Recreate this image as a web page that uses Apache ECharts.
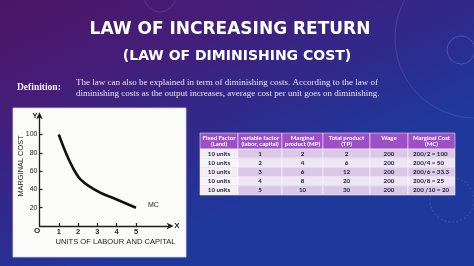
<!DOCTYPE html>
<html><head><meta charset="utf-8">
<script src="https://cdn.jsdelivr.net/npm/echarts@6/dist/echarts.min.js"></script>
<style>html,body{margin:0;padding:0;background:#3a2178;overflow:hidden}#c{width:474px;height:266px}</style>
</head><body><div id="c"></div>
<script>
// ---- data ----
const units = [1, 2, 3, 4, 5];
const marginalCost = [100, 54, 38, 29, 20];
const yTickValues = [20, 40, 60, 80, 100];
const tableHeaders = [['Fixed Factor', '(Land)'], ['variable factor', '(labor, capital)'], ['Marginal', 'product (MP)'], ['Total product', '(TP)'], ['Wage'], ['Marginal Cost', '(MC)']];
const fixedFactor = ['10 units', '10 units', '10 units', '10 units', '10 units'];
const variableFactor = ['1', '2', '3', '4', '5'];
const marginalProduct = ['2', '4', '6', '8', '10'];
const totalProduct = ['2', '6', '12', '20', '30'];
const wage = ['200', '200', '200', '200', '200'];
const mcCalc = ['200/2 = 100', '200/4 = 50', '200/6 = 33.3', '200/8 = 25', '200 /10 = 20'];
const titleText = 'LAW OF INCREASING RETURN';
const subtitleText = '(LAW OF DIMINISHING COST)';
const defLabel = 'Definition:';
const defLines = ['The law can also be explained in term of diminishing costs. According to the law of', 'diminishing costs as the output increases, average cost per unit goes on diminishing.'];

// ---- layout ----
const chart = echarts.init(document.getElementById('c'), null, {renderer: 'canvas'});
const g = [];
g.push({type: 'rect', z: -20, silent: true, shape: {x: 0, y: 0, width: 474, height: 266},
  style: {fill: new echarts.graphic.LinearGradient(0, 0, 0.25, 1, [
    {offset: 0, color: '#4d1666'}, {offset: 0.35, color: '#451d78'}, {offset: 0.7, color: '#2f2a8c'}, {offset: 1, color: '#1f389c'}])}});
// decorative rings
const ring = 'rgba(190,170,240,0.28)';
g.push({type: 'circle', z: -19, silent: true, shape: {cx: 461, cy: 50, r: 14}, style: {fill: 'none', stroke: ring, lineWidth: 1}});
g.push({type: 'circle', z: -19, silent: true, shape: {cx: 475, cy: 38, r: 80}, style: {fill: 'none', stroke: 'rgba(190,170,240,0.18)', lineWidth: 1}});
g.push({type: 'circle', z: -19, silent: true, shape: {cx: 160, cy: -4, r: 16}, style: {fill: 'none', stroke: 'rgba(190,170,240,0.18)', lineWidth: 1}});
g.push({type: 'circle', z: -19, silent: true, shape: {cx: 452, cy: 200, r: 22}, style: {fill: 'none', stroke: 'rgba(190,200,255,0.2)', lineWidth: 1, lineDash: [2, 2]}});

g.push({type: 'text', silent: true, style: {text: titleText, x: 230, y: 30, textAlign: 'center', textVerticalAlign: 'middle', fill: '#ffffff', font: 'bold 17px "DejaVu Sans"'}});
g.push({type: 'text', silent: true, style: {text: subtitleText, x: 237, y: 56, textAlign: 'center', textVerticalAlign: 'middle', fill: '#ffffff', font: 'bold 14px "DejaVu Sans"'}});
g.push({type: 'text', silent: true, style: {text: defLabel, x: 17, y: 88, textAlign: 'left', textVerticalAlign: 'middle', fill: '#f2eef6', font: 'bold 9.5px "Liberation Serif"'}});
defLines.forEach((t, i) => g.push({type: 'text', silent: true, style: {text: t, x: 76, y: 82.5 + i * 11.5, textAlign: 'left', textVerticalAlign: 'middle', fill: '#e6e1ee', font: '9px "Liberation Serif"'}}));

// chart box
g.push({type: 'rect', z: -5, silent: true, shape: {x: 13, y: 108, width: 173, height: 149}, style: {fill: '#fbfbfa', stroke: '#d8d4dc', lineWidth: 0.8}});
const ink = '#1e1e1e';
const small = (t, x, y, font, extra) => Object.assign({type: 'text', silent: true, style: {text: t, x: x, y: y, textAlign: 'center', textVerticalAlign: 'middle', fill: ink, font: font}}, extra || {});
g.push(small('Y', 35, 116, 'bold 7.5px "Liberation Sans"'));
g.push(small('X', 177, 226, 'bold 8px "Liberation Sans"'));
g.push(small('O', 37, 231, 'bold 8px "Liberation Sans"'));
g.push(small('UNITS OF LABOUR AND CAPITAL', 115.5, 242, '7.6px "Liberation Sans"'));
g.push({type: 'text', silent: true, x: 21, y: 166, rotation: Math.PI / 2, style: {text: 'MARGINAL COST', x: 0, y: 0, textAlign: 'center', textVerticalAlign: 'middle', fill: ink, font: '7.4px "Liberation Sans"'}});

// table
const colX = [200, 238, 282, 323, 370, 408, 455];
const headTop = 133, headH = 16, rowH = 9.2;
const cols = [fixedFactor, variableFactor, marginalProduct, totalProduct, wage, mcCalc];
tableHeaders.forEach((h, c) => {
  g.push({type: 'rect', silent: true, shape: {x: colX[c], y: headTop, width: colX[c + 1] - colX[c], height: headH}, style: {fill: '#9d4fc5', stroke: '#ffffff', lineWidth: 0.5}});
  h.forEach((line, k) => {
    const cy = h.length === 1 ? headTop + 4.8 : headTop + 4.6 + k * 6.6;
    g.push({type: 'text', silent: true, style: {text: line, x: (colX[c] + colX[c + 1]) / 2, y: cy, textAlign: 'center', textVerticalAlign: 'middle', fill: '#ffffff', font: 'bold 6px Lato'}});
  });
});
for (let r = 0; r < 5; r++) {
  const y0 = headTop + headH + r * rowH;
  cols.forEach((col, c) => {
    const fill = c === 0 ? (r % 2 === 0 ? '#f3eef6' : '#f8f5fa') : (r % 2 === 0 ? '#dbc8e7' : '#eee6f3');
    g.push({type: 'rect', silent: true, shape: {x: colX[c], y: y0, width: colX[c + 1] - colX[c], height: rowH}, style: {fill: fill, stroke: '#ffffff', lineWidth: 0.5}});
    const left = c === 5;
    g.push({type: 'text', silent: true, style: {text: col[r], x: left ? colX[c] + 5 : (colX[c] + colX[c + 1]) / 2, y: y0 + rowH / 2, textAlign: left ? 'left' : 'center', textVerticalAlign: 'middle', fill: '#1d1b36', font: 'bold 6.2px Lato'}});
  });
}

const option = {
  animation: false,
  grid: {left: 39.5, top: 115.3, width: 131.2, height: 110.7},
  xAxis: {type: 'value', min: 0, max: 6.8, interval: 1,
    axisLine: {lineStyle: {color: ink, width: 1.3}, symbol: ['none', 'arrow'], symbolSize: [5, 7], symbolOffset: [0, 3]},
    axisTick: {show: true, inside: true, length: 3, customValues: units, lineStyle: {color: ink, width: 1.2}},
    axisLabel: {customValues: units, margin: 2, fontSize: 7.5, fontWeight: 'bold', color: ink, fontFamily: 'Liberation Sans'},
    splitLine: {show: false}},
  yAxis: {type: 'value', min: 0, max: 121, interval: 20,
    axisLine: {show: true, lineStyle: {color: ink, width: 1.3}, symbol: ['none', 'arrow'], symbolSize: [5, 7], symbolOffset: [0, 3]},
    axisTick: {show: true, inside: true, length: 3, customValues: yTickValues, lineStyle: {color: ink, width: 1.2}},
    axisLabel: {customValues: yTickValues, margin: 2, fontSize: 7, color: ink, fontFamily: 'Liberation Sans'},
    splitLine: {show: false}},
  series: [{type: 'line', data: units.map((u, i) => [u, marginalCost[i]]), smooth: 0.35, symbol: 'none',
    lineStyle: {color: '#111', width: 2.6},
    endLabel: {show: true, formatter: 'MC', offset: [4, -3], fontSize: 7, color: ink, fontFamily: 'Liberation Sans'}}],
  graphic: {elements: g}
};
chart.setOption(option);
</script></body></html>
